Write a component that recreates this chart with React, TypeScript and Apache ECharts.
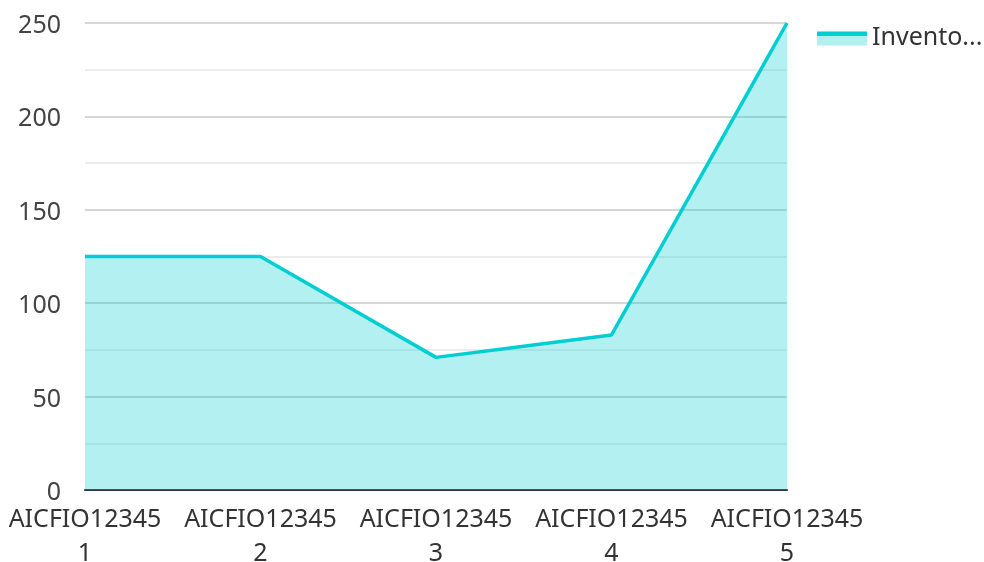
import React, { useEffect, useRef } from "react";
import * as echarts from "echarts";

const categories = ["AICFIO12345\n1", "AICFIO12345\n2", "AICFIO12345\n3", "AICFIO12345\n4", "AICFIO12345\n5"];
const values = [125, 125, 71, 83, 250];
const seriesName = "Inventory";

export default function App() {
  const ref = useRef<HTMLDivElement>(null);
  useEffect(() => {
    const chart = echarts.init(ref.current!, null, { renderer: "svg" });
    chart.setOption({
      animation: false,
      textStyle: { fontFamily: "Noto Sans" },
      grid: { left: 85, right: 197, top: 23, bottom: 72, outerBoundsMode: "none", containLabel: false },
      legend: {
        left: 812,
        top: 17,
        icon: "rect",
        itemWidth: 50,
        itemHeight: 22,
        itemGap: 10,
        itemStyle: {
          color: {
            type: "linear", x: 0, y: 0, x2: 0, y2: 1,
            colorStops: [
              { offset: 0, color: "rgba(255,255,255,0)" },
              { offset: 0.36, color: "rgba(255,255,255,0)" },
              { offset: 0.365, color: "#00CED1" },
              { offset: 0.56, color: "#00CED1" },
              { offset: 0.565, color: "#b2efef" },
              { offset: 1, color: "#b2efef" },
            ],
          },
        },
        textStyle: { fontSize: 25, color: "#333", width: 112, overflow: "truncate", ellipsis: "...", fontFamily: "Noto Sans" },
        data: [seriesName],
      },
      xAxis: {
        type: "category",
        data: categories,
        boundaryGap: false,
        axisLine: { lineStyle: { color: "#333", width: 2 } },
        axisTick: { show: false },
        axisLabel: { interval: 0, fontSize: 25, color: "#333", lineHeight: 34, margin: 10, fontFamily: "Noto Sans" },
      },
      yAxis: {
        type: "value",
        min: 0,
        max: 250,
        interval: 50,
        axisLabel: { fontSize: 25, color: "#444", margin: 24, fontFamily: "Noto Sans" },
        splitLine: { lineStyle: { color: "#c8c8c8", width: 1.5 } },
        minorTick: { show: false, splitNumber: 2 },
        minorSplitLine: { show: true, lineStyle: { color: "#e6e6e6", width: 1.5 } },
      },
      series: [
        {
          name: seriesName,
          type: "line",
          data: values,
          symbol: "none",
          lineStyle: { color: "#00CED1", width: 3.5 },
          itemStyle: { color: "#00CED1" },
          areaStyle: { color: "#00CED1", opacity: 0.3 },
        },
      ],
    });
    return () => chart.dispose();
  }, []);
  return <div ref={ref} style={{ position: "fixed", left: 0, top: 0, width: 984, height: 562 }} />;
}
